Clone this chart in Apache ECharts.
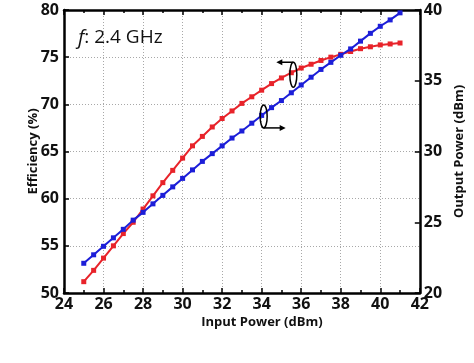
<!DOCTYPE html>
<html>
<head>
<meta charset="utf-8">
<script src="https://cdn.jsdelivr.net/npm/echarts@6/dist/echarts.min.js"></script>
<style>
html,body{margin:0;padding:0;background:#fff;}
#c{width:474px;height:363px;}
</style>
</head>
<body>
<div id="c"></div>
<script>
var inputPower = [25,25.5,26,26.5,27,27.5,28,28.5,29,29.5,30,30.5,31,31.5,32,32.5,33,33.5,34,34.5,35,35.5,36,36.5,37,37.5,38,38.5,39,39.5,40,40.5,41];
var efficiency = [51.2,52.4,53.7,55.0,56.3,57.5,58.9,60.3,61.7,63.0,64.3,65.6,66.6,67.6,68.5,69.3,70.1,70.8,71.5,72.2,72.8,73.35,73.85,74.25,74.65,75.0,75.3,75.6,75.9,76.1,76.3,76.4,76.5];
var outputPower = [22.1,22.7,23.3,23.9,24.5,25.15,25.7,26.3,26.9,27.5,28.1,28.7,29.3,29.85,30.4,30.95,31.45,32.0,32.55,33.1,33.6,34.15,34.7,35.25,35.8,36.3,36.8,37.25,37.8,38.35,38.85,39.3,39.8];
var xTicks = [24,26,28,30,32,34,36,38,40,42];
var leftTicks = [50,55,60,65,70,75,80];
var rightTicks = [20,25,30,35,40];
var freqLabel = '2.4 GHz';

var FONT = '"Open Sans", "DejaVu Sans", sans-serif';
var RED = '#e8232a';
var BLUE = '#1c1ed8';

function pair(xs, ys){ return xs.map(function(x,i){ return [x, ys[i]]; }); }

var chart = echarts.init(document.getElementById('c'), null, {renderer:'canvas'});
var axisLine = {show:true, lineStyle:{color:'#000', width:2.5}};
var grid = {left:64, right:47, top:10, bottom:70, containLabel:false};
var splitLine = {show:true, lineStyle:{color:'#a8a8a8', type:[1,2], width:1}};
var labelStyle = {color:'#111', fontFamily:FONT, fontWeight:700, fontSize:16};

chart.setOption({
  animation:false,
  backgroundColor:'#fff',
  grid:grid,
  xAxis:[{
    type:'value', min:xTicks[0], max:xTicks[xTicks.length-1], interval:2,
    position:'bottom',
    axisLine:axisLine,
    axisTick:{show:true, inside:true, length:5, lineStyle:{color:'#000', width:1.5}},
    minorTick:{show:true, splitNumber:2, length:3, lineStyle:{color:'#000', width:1.5}},
    axisLabel:Object.assign({margin:3}, labelStyle),
    splitLine:splitLine,
    name:'Input Power (dBm)', nameLocation:'middle', nameGap:23, nameMoveOverlap:false,
    nameTextStyle:{color:'#111', fontFamily:FONT, fontWeight:700, fontSize:13, padding:[0,0,0,40]}
  },{
    type:'value', min:xTicks[0], max:xTicks[xTicks.length-1], interval:2,
    position:'top',
    axisLine:axisLine,
    axisTick:{show:true, inside:true, length:5, lineStyle:{color:'#000', width:1.5}},
    minorTick:{show:true, splitNumber:2, length:3, lineStyle:{color:'#000', width:1.5}},
    axisLabel:{show:false},
    splitLine:{show:false}
  }],
  yAxis:[{
    type:'value', min:leftTicks[0], max:leftTicks[leftTicks.length-1], interval:5,
    position:'left',
    axisLine:axisLine,
    axisTick:{show:true, inside:true, length:5, lineStyle:{color:'#000', width:1.5}},
    axisLabel:Object.assign({margin:5}, labelStyle),
    splitLine:splitLine,
    name:'Efficiency (%)', nameLocation:'middle', nameGap:24, nameRotate:90, nameMoveOverlap:false,
    nameTextStyle:{color:'#111', fontFamily:FONT, fontWeight:700, fontSize:13}
  },{
    type:'value', min:rightTicks[0], max:rightTicks[rightTicks.length-1], interval:5,
    position:'right',
    axisLine:axisLine,
    axisTick:{show:true, inside:true, length:5, lineStyle:{color:'#000', width:1.5}},
    axisLabel:Object.assign({margin:4}, labelStyle),
    splitLine:{show:false},
    name:'Output Power (dBm)', nameLocation:'middle', nameGap:32, nameRotate:90,
    nameTextStyle:{color:'#111', fontFamily:FONT, fontWeight:700, fontSize:13}
  }],
  series:[{
    type:'line', name:'Efficiency', xAxisIndex:0, yAxisIndex:0,
    data:pair(inputPower, efficiency),
    symbol:'rect', symbolSize:5, showSymbol:true,
    lineStyle:{color:RED, width:2}, itemStyle:{color:RED}, z:3
  },{
    type:'line', name:'Output Power', xAxisIndex:0, yAxisIndex:1,
    data:pair(inputPower, outputPower),
    symbol:'rect', symbolSize:5, showSymbol:true,
    lineStyle:{color:BLUE, width:2}, itemStyle:{color:BLUE}, z:4
  }]
});

// annotations anchored to data coordinates
var iEff = inputPower.indexOf(35.5);
var iOut = inputPower.indexOf(34);
var p1 = chart.convertToPixel({xAxisIndex:0, yAxisIndex:0}, [inputPower[iEff], efficiency[iEff]]);
var p2 = chart.convertToPixel({xAxisIndex:0, yAxisIndex:1}, [inputPower[iOut], outputPower[iOut]]);
var origin = chart.convertToPixel({xAxisIndex:0, yAxisIndex:0}, [xTicks[0], leftTicks[leftTicks.length-1]]);

var ax = 3.5, ay = 12.5;
var stroke = {stroke:'#000', lineWidth:1.5, fill:null};
var c1 = [p1[0]+2, p1[1]+2];
var c2 = [p2[0]+2, p2[1]+1];
chart.setOption({
  graphic:[
    {type:'text', left:origin[0]+14, top:origin[1]+18,
     style:{text:'{i|f}{n|: ' + freqLabel + '}',
       rich:{i:{fontFamily:FONT, fontStyle:'italic', fontSize:20, fill:'#111'},
             n:{fontFamily:FONT, fontSize:19, fill:'#111'}}}},
    {type:'ellipse', shape:{cx:c1[0], cy:c1[1], rx:ax, ry:ay}, style:stroke, z:10},
    {type:'line', shape:{x1:c1[0], y1:c1[1]-ay, x2:c1[0]-14, y2:c1[1]-ay}, style:{stroke:'#000', lineWidth:1.5}, z:10},
    {type:'polygon', shape:{points:[[c1[0]-17,c1[1]-ay],[c1[0]-11,c1[1]-ay-3],[c1[0]-11,c1[1]-ay+3]]}, style:{fill:'#000'}, z:10},
    {type:'ellipse', shape:{cx:c2[0], cy:c2[1], rx:ax, ry:11.5}, style:stroke, z:10},
    {type:'line', shape:{x1:c2[0], y1:c2[1]+11.5, x2:c2[0]+19, y2:c2[1]+11.5}, style:{stroke:'#000', lineWidth:1.5}, z:10},
    {type:'polygon', shape:{points:[[c2[0]+22,c2[1]+11.5],[c2[0]+16,c2[1]+8.5],[c2[0]+16,c2[1]+14.5]]}, style:{fill:'#000'}, z:10}
  ]
});
</script>
</body>
</html>
